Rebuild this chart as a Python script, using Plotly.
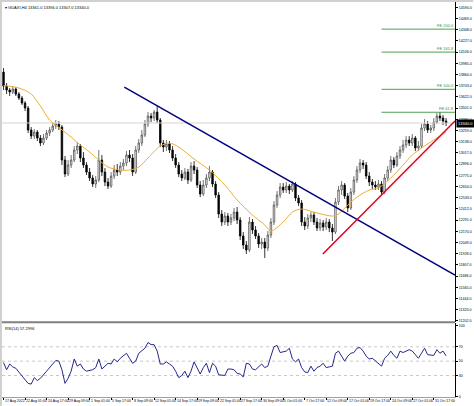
import plotly.graph_objects as go

symbol = "GDAXI,H4"

bar_index = list(range(145))
opens = [
    13890, 13739, 13696, 13674, 13707, 13653, 13610, 13556, 13502, 13264,
    13199, 13242, 13178, 13124, 13178, 13232, 13264, 13307, 13329, 13296,
    12940, 12789, 12886, 12940, 13048, 13091, 12962, 12886, 12810, 12746,
    12681, 12724, 12940, 12810, 12702, 12659, 12767, 12832, 12810, 12875,
    12908, 12994, 12962, 12810, 13048, 13124, 13210, 13329, 13415, 13394,
    13458, 13372, 13124, 13080, 13113, 13048, 12962, 12886, 12789, 12746,
    12810, 12724, 12875, 12832, 12670, 12573, 12670, 12746, 12810, 12681,
    12562, 12357, 12270, 12335, 12270, 12314, 12378, 12292, 12119, 12022,
    11968, 12270, 12184, 12119, 12033, 12054, 11990, 12130, 12270, 12454,
    12562, 12648, 12616, 12659, 12616, 12681, 12530, 12476, 12270, 12227,
    12314, 12346, 12270, 12206, 12260, 12216, 12270, 12206, 12162, 12486,
    12616, 12670, 12551, 12422, 12594, 12724, 12832, 12908, 12886, 12767,
    12702, 12670, 12648, 12681, 12594, 12746, 12832, 12940, 12886, 12983,
    13048, 13102, 13156, 13124, 13178, 13070, 13091, 13286, 13329, 13264,
    13286, 13350, 13415, 13394, 13361,
]
highs = [
    13934, 13772, 13718, 13739, 13728, 13674, 13631, 13577, 13523, 13296,
    13275, 13264, 13210, 13221, 13264, 13296, 13340, 13372, 13361, 13318,
    12983, 12940, 12994, 13091, 13134, 13113, 13026, 12918, 12854, 12778,
    12767, 13048, 12994, 12854, 12746, 12810, 12886, 12897, 12918, 12951,
    13037, 13048, 13005, 13091, 13167, 13264, 13372, 13458, 13448, 13480,
    13523, 13394, 13156, 13156, 13145, 13091, 13005, 12918, 12832, 12854,
    12843, 12918, 12929, 12864, 12713, 12724, 12789, 12875, 12832, 12713,
    12594, 12400, 12378, 12368, 12357, 12422, 12432, 12324, 12162, 12065,
    12324, 12303, 12227, 12152, 12098, 12098, 12173, 12314, 12497, 12605,
    12692, 12692, 12702, 12681, 12713, 12702, 12562, 12508, 12324, 12357,
    12378, 12378, 12314, 12303, 12292, 12314, 12303, 12249, 12530, 12659,
    12713, 12692, 12584, 12638, 12767, 12875, 12951, 12940, 12918, 12810,
    12735, 12713, 12724, 12713, 12789, 12875, 12983, 12972, 13026, 13091,
    13156, 13199, 13199, 13221, 13199, 13145, 13329, 13383, 13361, 13318,
    13394, 13448, 13458, 13426, 13394,
]
lows = [
    13696, 13653, 13631, 13653, 13631, 13588, 13534, 13469, 13232, 13167,
    13167, 13145, 13091, 13102, 13156, 13199, 13242, 13275, 13264, 12886,
    12756, 12767, 12854, 12918, 13005, 12918, 12854, 12778, 12713, 12648,
    12638, 12702, 12767, 12659, 12627, 12638, 12735, 12767, 12778, 12832,
    12875, 12918, 12767, 12789, 13016, 13091, 13188, 13296, 13350, 13361,
    13340, 13080, 13026, 13037, 13016, 12929, 12854, 12756, 12713, 12724,
    12681, 12702, 12789, 12638, 12540, 12551, 12638, 12713, 12648, 12530,
    12314, 12227, 12238, 12227, 12238, 12281, 12249, 12076, 11979, 11925,
    11946, 12141, 12087, 11990, 11979, 11882, 11957, 12098, 12238, 12422,
    12530, 12584, 12584, 12573, 12594, 12497, 12443, 12227, 12184, 12195,
    12270, 12238, 12173, 12173, 12173, 12184, 12162, 12065, 12141, 12454,
    12562, 12519, 12378, 12400, 12562, 12692, 12800, 12843, 12735, 12659,
    12627, 12616, 12616, 12562, 12573, 12713, 12800, 12854, 12864, 12951,
    13016, 13070, 13091, 13091, 13037, 13037, 13070, 13253, 13232, 13232,
    13253, 13329, 13361, 13318, 13307,
]
closes = [
    13739, 13696, 13674, 13707, 13653, 13610, 13556, 13502, 13264, 13199,
    13242, 13178, 13124, 13178, 13232, 13264, 13307, 13329, 13296, 12940,
    12789, 12886, 12940, 13048, 13091, 12962, 12886, 12810, 12746, 12681,
    12724, 12940, 12810, 12702, 12659, 12767, 12832, 12810, 12875, 12908,
    12994, 12962, 12810, 13048, 13124, 13210, 13329, 13415, 13394, 13458,
    13372, 13124, 13080, 13113, 13048, 12962, 12886, 12789, 12746, 12810,
    12724, 12875, 12832, 12670, 12573, 12670, 12746, 12810, 12681, 12562,
    12357, 12270, 12335, 12270, 12314, 12378, 12292, 12119, 12022, 11968,
    12270, 12184, 12119, 12033, 12054, 11990, 12130, 12270, 12454, 12562,
    12648, 12616, 12659, 12616, 12681, 12530, 12476, 12270, 12227, 12314,
    12346, 12270, 12206, 12260, 12216, 12270, 12206, 12162, 12486, 12616,
    12670, 12551, 12422, 12594, 12724, 12832, 12908, 12886, 12767, 12702,
    12670, 12648, 12681, 12594, 12746, 12832, 12940, 12886, 12983, 13048,
    13102, 13156, 13124, 13178, 13070, 13091, 13286, 13329, 13264, 13286,
    13350, 13415, 13394, 13361, 13340,
]

# moving average
ma_index = [0, 5, 9, 12, 15, 17, 22, 25, 28, 31, 34, 38, 41, 44, 47, 51, 54, 57, 62, 67,
            72, 76, 81, 85, 87, 91, 94, 97, 102, 107, 109, 112, 115, 119, 122, 127, 130,
            133, 136, 140, 144]
ma_values = [13745, 13718, 13653, 13523, 13372, 13318, 13188, 13102, 13026, 12940, 12864,
             12832, 12832, 12864, 12962, 13091, 13124, 13080, 12951, 12832, 12670, 12508,
             12346, 12238, 12173, 12270, 12378, 12411, 12368, 12335, 12357, 12454, 12540,
             12616, 12638, 12778, 12886, 12994, 13070, 13156, 13242]

rsi_index = [
    0, 1, 2, 3, 4, 6, 8, 9, 10, 11,
    12, 14, 15, 17, 18, 19, 20, 21, 22, 23,
    24, 25, 26, 27, 29, 30, 31, 32, 34, 35,
    36, 37, 38, 40, 41, 42, 43, 44, 46, 47,
    48, 49, 50, 51, 52, 53, 54, 55, 56, 57,
    58, 59, 60, 61, 62, 63, 64, 65, 66, 67,
    68, 69, 70, 72, 73, 74, 75, 76, 77, 78,
    79, 80, 81, 82, 84, 85, 86, 87, 88, 89,
    90, 92, 93, 94, 95, 96, 97, 98, 99, 100,
    101, 102, 103, 104, 105, 106, 107, 108, 109, 110,
    111, 112, 113, 114, 115, 116, 117, 118, 119, 120,
    121, 122, 123, 124, 125, 126, 127, 128, 129, 130,
    132, 133, 134, 135, 136, 137, 138, 140, 141, 142,
    143, 144,
]
rsi_values = [
    48, 38, 46, 42, 40, 30, 19, 18, 27, 23,
    26, 36, 41, 51, 50, 38, 19, 26, 36, 53,
    43, 46, 39, 36, 38, 41, 53, 39, 47, 46,
    53, 49, 54, 61, 54, 47, 50, 61, 68, 76,
    73, 73, 64, 46, 46, 49, 46, 43, 36, 27,
    30, 36, 27, 36, 49, 41, 32, 41, 47, 34,
    47, 43, 31, 30, 39, 39, 38, 33, 32, 28,
    47, 46, 39, 38, 46, 41, 43, 57, 70, 72,
    62, 64, 68, 53, 49, 53, 41, 35, 34, 43,
    36, 41, 43, 47, 41, 42, 43, 61, 64, 57,
    50, 57, 61, 62, 68, 69, 64, 57, 53, 54,
    50, 47, 43, 54, 58, 64, 58, 54, 64, 62,
    66, 64, 59, 54, 61, 68, 59, 58, 66, 61,
    64, 57.3,
]
rsi_levels = [70, 50, 30]
rsi_ticks = [0, 30, 50, 70, 100]

# trend lines drawn on the chart (bar index, price)
down_line_index = [39.3, 146.9]
down_line_price = [13728, 11698]
up_line_index = [103.9, 146.9]
up_line_price = [11925, 13361]

# fibonacci expansion
fib_start_index = 123
fib_labels = ["FE 61.8", "FE 100.0", "FE 161.8", "FE 200.0"]
fib_prices = [13456, 13704, 14106, 14354]

price_ticks = [11202, 11323, 11444, 11565, 11686, 11807, 11928, 12049, 12170, 12291,
               12412, 12533, 12654, 12775, 12896, 13017, 13138, 13259, 13380, 13501,
               13622, 13743, 13864, 13985, 14106, 14227, 14348, 14469, 14590]

label_index = [0, 7, 14, 21, 28, 35, 42, 49, 56, 63, 70, 77, 84, 91, 98, 105, 112, 119,
               126, 133, 140]
date_labels = ["17 Aug 2022", "22 Aug 01:00", "24 Aug 17:00", "29 Aug 09:00", "1 Sep 01:00",
               "5 Sep 17:00", "8 Sep 09:00", "12 Sep 01:00", "14 Sep 17:00", "19 Sep 09:00",
               "22 Sep 01:00", "27 Sep 17:00", "30 Sep 09:00", "5 Oct 01:00", "7 Oct 17:00",
               "12 Oct 09:00", "17 Oct 01:00", "19 Oct 17:00", "24 Oct 09:00", "27 Oct 01:00",
               "31 Oct 17:00"]

FONT = "Liberation Sans"
X_RANGE = [-0.5, 146.9]
MAIN_DOMAIN = [0.19, 1]
RSI_DOMAIN = [0, 0.187]

fig = go.Figure()

fig.add_trace(go.Scatter(
    x=X_RANGE, y=[closes[-1], closes[-1]], mode="lines",
    line=dict(color="#d4d4d4", width=1), hoverinfo="skip",
))

fig.add_trace(go.Candlestick(
    x=bar_index, open=opens, high=highs, low=lows, close=closes,
    increasing=dict(line=dict(color="#505050", width=0.8), fillcolor="#ffffff"),
    decreasing=dict(line=dict(color="#000000", width=0.8), fillcolor="#000000"),
    whiskerwidth=0,
))

fig.add_trace(go.Scatter(
    x=ma_index, y=ma_values, mode="lines",
    line=dict(color="#f0ad2e", width=1, shape="spline", smoothing=0.8),
))

fig.add_trace(go.Scatter(
    x=down_line_index, y=down_line_price, mode="lines",
    line=dict(color="#000080", width=1.5),
))
fig.add_trace(go.Scatter(
    x=up_line_index, y=up_line_price, mode="lines",
    line=dict(color="#e4001b", width=1.5),
))

for price in fib_prices:
    fig.add_trace(go.Scatter(
        x=[fib_start_index, X_RANGE[1]], y=[price, price], mode="lines",
        line=dict(color="#4aa34a", width=1),
    ))

for level in rsi_levels:
    fig.add_trace(go.Scatter(
        x=X_RANGE, y=[level, level], mode="lines", yaxis="y2",
        line=dict(color="#c8c8c8", width=1, dash="dot"),
    ))

fig.add_trace(go.Scatter(
    x=rsi_index, y=rsi_values, mode="lines", yaxis="y2",
    line=dict(color="#27278a", width=1),
))

annotations = []
for idx, text in zip(label_index, date_labels):
    annotations.append(dict(
        x=idx, y=0, xref="x", yref="paper", xanchor="left", yanchor="top",
        text=text, showarrow=False, font=dict(size=3.5, family=FONT), yshift=-1,
        borderpad=0,
    ))
for text, price in zip(fib_labels, fib_prices):
    annotations.append(dict(
        x=X_RANGE[1], y=price, xref="x", yref="y", xanchor="right", yanchor="bottom",
        text=text, showarrow=False, font=dict(size=4, family=FONT, color="#3a8f3a"),
        borderpad=0,
    ))
annotations.append(dict(
    x=0.002, y=0.997, xref="paper", yref="paper", xanchor="left", yanchor="top",
    text="▾ %s %.1f %.1f %.1f %.1f" % (symbol, opens[-1], highs[-1], lows[-1], closes[-1]),
    showarrow=False, font=dict(size=4, family=FONT),
))
annotations.append(dict(
    x=0.002, y=RSI_DOMAIN[1] - 0.002, xref="paper", yref="paper", xanchor="left",
    yanchor="top", text="RSI(14) %.4f" % 57.2996, showarrow=False,
    font=dict(size=4, family=FONT),
))
annotations.append(dict(
    x=1, y=closes[-1], xref="paper", yref="y", xanchor="left", yanchor="middle",
    text="%.1f" % closes[-1], showarrow=False, bgcolor="#000000", borderpad=1,
    font=dict(size=4, family=FONT, color="#ffffff"), xshift=1,
))

fig.update_layout(
    width=474,
    height=406,
    margin=dict(l=2, r=16, t=2, b=9),
    paper_bgcolor="#ffffff",
    plot_bgcolor="#ffffff",
    showlegend=False,
    font=dict(family=FONT, size=4, color="#000000"),
    xaxis=dict(
        range=X_RANGE, anchor="y2", showgrid=False, zeroline=False,
        rangeslider=dict(visible=False), tickvals=label_index, showticklabels=False,
        ticks="outside", ticklen=2, tickcolor="#000000",
        showline=True, linecolor="#a0a0a0", linewidth=1,
    ),
    yaxis=dict(
        domain=MAIN_DOMAIN, range=[11191, 14647], side="right", showgrid=False,
        zeroline=False, tickvals=price_ticks, ticktext=["%.1f" % v for v in price_ticks],
        ticks="outside", ticklen=2, tickcolor="#000000", showline=True,
        linecolor="#000000", linewidth=1, tickfont=dict(size=3.6),
    ),
    yaxis2=dict(
        domain=RSI_DOMAIN, range=[0, 103], side="right", showgrid=False,
        zeroline=False, tickvals=rsi_ticks, ticks="outside", ticklen=2,
        tickcolor="#000000", showline=True, linecolor="#000000", linewidth=1,
        tickfont=dict(size=3.6),
    ),
    annotations=annotations,
    shapes=[
        dict(type="line", xref="paper", yref="paper", x0=-0.01, x1=1,
             y0=0.1895, y1=0.1895, line=dict(color="#808080", width=2)),
        dict(type="rect", xref="paper", yref="paper", x0=-0.01, x1=0, y0=-0.03,
             y1=1.01, line=dict(width=0), fillcolor="#d0d0d0"),
        dict(type="rect", xref="paper", yref="paper", x0=-0.01, x1=1.04, y0=1,
             y1=1.01, line=dict(width=0), fillcolor="#d0d0d0"),
    ],
)

# the page body has a default 8px margin; drop it so the chart fills the window
fig.write_html(
    "out.html",
    config={"displayModeBar": False},
    post_script="document.body.style.margin = '0';",
)
